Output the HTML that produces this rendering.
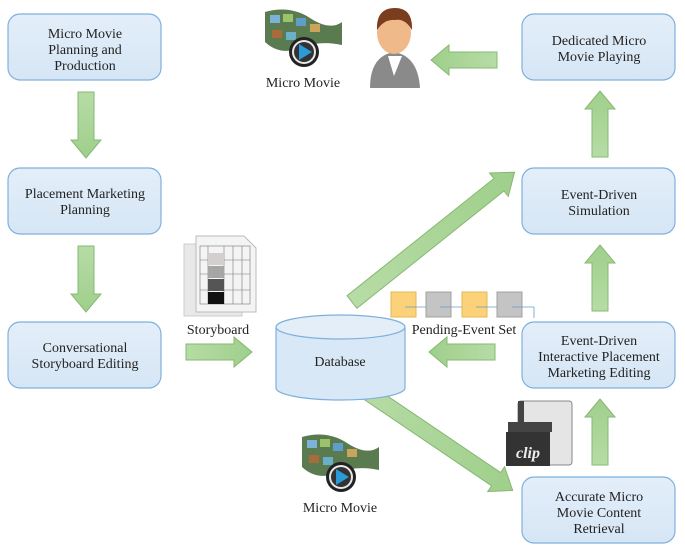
<!DOCTYPE html>
<html><head><meta charset="utf-8"><style>
body{margin:0;background:#fff;}
svg text{font-family:"Liberation Serif",serif;font-size:14px;fill:#222;text-anchor:middle;}
</style></head><body>
<svg width="685" height="551" viewBox="0 0 685 551" xmlns="http://www.w3.org/2000/svg">
<defs>
<linearGradient id="bx" x1="0" y1="0" x2="0" y2="1"><stop offset="0" stop-color="#e3eef9"/><stop offset="1" stop-color="#d6e6f5"/></linearGradient>
<linearGradient id="ar" x1="0" y1="0" x2="1" y2="0"><stop offset="0" stop-color="#b7dca6"/><stop offset="1" stop-color="#9fcf8b"/></linearGradient>
<g id="box"><rect x="0" y="0" width="153" height="66" rx="12" fill="url(#bx)" stroke="#7fb0dd" stroke-width="1.2"/></g>
<g id="harrow"><polygon points="0,-8 48,-8 48,-15 66,0 48,15 48,8 0,8" fill="url(#ar)" stroke="#86b873" stroke-width="1"/></g>
</defs>
<use href="#box" x="8" y="14"/><use href="#box" x="8" y="168"/><use href="#box" x="8" y="322"/>
<use href="#box" x="522" y="14"/><use href="#box" x="522" y="168"/><use href="#box" x="522" y="322"/><use href="#box" x="522" y="477"/>
<text x="85" y="38">Micro Movie</text><text x="85" y="54">Planning and</text><text x="85" y="70">Production</text>
<text x="85" y="198">Placement Marketing</text><text x="85" y="214">Planning</text>
<text x="85" y="352">Conversational</text><text x="85" y="368">Storyboard Editing</text>
<text x="599" y="45">Dedicated Micro</text><text x="599" y="61">Movie Playing</text>
<text x="599" y="199">Event-Driven</text><text x="599" y="215">Simulation</text>
<text x="599" y="345">Event-Driven</text><text x="599" y="361">Interactive Placement</text><text x="599" y="377">Marketing Editing</text>
<text x="599" y="501">Accurate Micro</text><text x="599" y="517">Movie Content</text><text x="599" y="533">Retrieval</text>
<use href="#harrow" transform="translate(86,92) rotate(90)"/>
<use href="#harrow" transform="translate(86,246) rotate(90)"/>
<use href="#harrow" transform="translate(600,157) rotate(-90)"/>
<use href="#harrow" transform="translate(600,311) rotate(-90)"/>
<use href="#harrow" transform="translate(600,465) rotate(-90)"/>
<use href="#harrow" transform="translate(186,352)"/>
<use href="#harrow" transform="translate(495,352) rotate(180)"/>
<use href="#harrow" transform="translate(497,60) rotate(180)"/>
<g transform="translate(352,302) rotate(-38.6)"><polygon points="0,-8 188,-8 188,-15 208,0 188,15 188,8 0,8" fill="url(#ar)" stroke="#86b873"/></g>
<g transform="translate(357,385) rotate(34.1)"><polygon points="0,-8 168,-8 168,-15 188,0 168,15 168,8 0,8" fill="url(#ar)" stroke="#86b873"/></g>
<path d="M276,327 L276,388 A64.5,12 0 0 0 405,388 L405,327" fill="#d9e8f6" stroke="#7fb0dd" stroke-width="1.2"/>
<ellipse cx="340.5" cy="327" rx="64.5" ry="12" fill="#e3eef9" stroke="#7fb0dd" stroke-width="1.2"/>
<text x="340" y="366">Database</text>
<rect x="184" y="244" width="58" height="72" fill="#e8e8e8" stroke="#ccc"/>
<polygon points="196,236 244,236 256,248 256,312 196,312" fill="#f4f4f4" stroke="#bbb"/>
<g stroke="#777" stroke-width="0.6" fill="none">
<rect x="200" y="246" width="50" height="58"/>
<line x1="208" y1="246" x2="208" y2="304"/><line x1="224" y1="246" x2="224" y2="304"/><line x1="233" y1="246" x2="233" y2="304"/><line x1="242" y1="246" x2="242" y2="304"/>
<line x1="200" y1="260" x2="250" y2="260"/><line x1="200" y1="274" x2="250" y2="274"/><line x1="200" y1="290" x2="250" y2="290"/>
</g>
<rect x="208" y="253" width="16" height="12" fill="#d4cfcf"/><rect x="208" y="266" width="16" height="12" fill="#a6a6a6"/>
<rect x="208" y="279" width="16" height="12" fill="#555"/><rect x="208" y="292" width="16" height="12" fill="#111"/>
<text x="218" y="334">Storyboard</text>
<rect x="391" y="292" width="25" height="25" fill="#fbd27a" stroke="#e7b656"/>
<rect x="426" y="292" width="25" height="25" fill="#c4c4c4" stroke="#a0a0a0"/>
<rect x="462" y="292" width="25" height="25" fill="#fbd27a" stroke="#e7b656"/>
<rect x="497" y="292" width="25" height="25" fill="#c4c4c4" stroke="#a0a0a0"/>
<g stroke="#6a9bc8" stroke-width="0.8"><line x1="405" y1="307" x2="426" y2="307"/><line x1="440" y1="307" x2="462" y2="307"/><line x1="476" y1="307" x2="497" y2="307"/><line x1="512" y1="307" x2="534" y2="307"/><line x1="534" y1="307" x2="534" y2="318"/></g>
<text x="464" y="334">Pending-Event Set</text>
<g id="mv">
<path d="M265,12 Q290,5 310,18 T342,22 L342,45 Q320,40 300,48 T265,42 Z" fill="#5a7a50"/>
<rect x="270" y="15" width="10" height="8" fill="#7ab2d8"/><rect x="283" y="14" width="10" height="8" fill="#9bc36a"/><rect x="296" y="18" width="10" height="8" fill="#5f9ecb"/><rect x="310" y="24" width="10" height="8" fill="#c9a45a"/><rect x="272" y="30" width="10" height="8" fill="#a86b3b"/><rect x="286" y="32" width="10" height="8" fill="#6bb0c9"/>
<circle cx="304" cy="52" r="15" fill="#222"/><circle cx="304" cy="52" r="12" fill="#e8e8e8"/><circle cx="304" cy="52" r="10" fill="#333"/>
<polygon points="299,44 299,60 312,52" fill="#2a9ad8"/>
</g>
<text x="303" y="87">Micro Movie</text>
<use href="#mv" transform="translate(37,425)"/>
<text x="340" y="512">Micro Movie</text>
<path d="M370,88 Q370,56 394,52 Q418,56 420,88 Z" fill="#8a8a8a"/>
<path d="M388,56 L394,76 L402,56 Z" fill="#fff"/>
<ellipse cx="394" cy="33" rx="17" ry="21" fill="#f0b98a"/>
<path d="M377,30 Q376,8 395,8 Q413,8 412,30 Q405,18 395,20 Q384,19 377,30 Z" fill="#7a3e1e"/>
<rect x="518" y="401" width="54" height="64" rx="3" fill="#e5e5e5" stroke="#888"/>
<rect x="518" y="401" width="6" height="64" fill="#444"/>
<rect x="506" y="432" width="44" height="34" fill="#333"/>
<polygon points="508,422 552,422 552,432 508,432" fill="#444"/>
<text x="528" y="458" style="font-size:16px;fill:#eee;font-style:italic;font-weight:bold">clip</text>
</svg>
</body></html>
